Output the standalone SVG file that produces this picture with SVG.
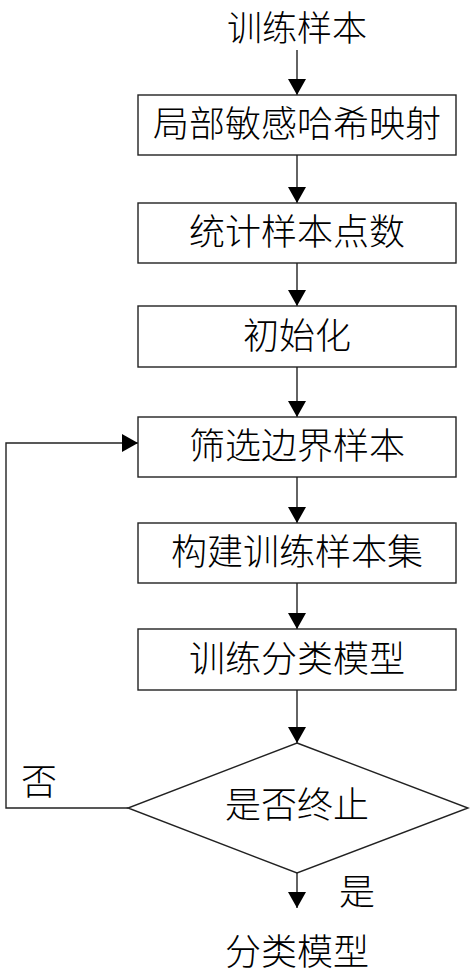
<svg xmlns="http://www.w3.org/2000/svg" width="474" height="974" viewBox="0 0 474 974">
<style>
.box{fill:#fff;stroke:#222;stroke-width:1.4}
.t{font-family:"Noto Sans CJK SC","Noto Sans CJK TC",sans-serif;font-size:36px;font-weight:300;fill:#000;text-anchor:middle}
.c{fill:none;stroke:#222;stroke-width:1.4}
</style>
<defs>
<marker id="ah" viewBox="0 0 16 18" refX="16" refY="9" markerWidth="16" markerHeight="18" markerUnits="userSpaceOnUse" orient="auto">
<path d="M0,0 L16,9 L0,18 Z" fill="#000"/>
</marker>
</defs>
<rect width="474" height="974" fill="#fff"/>
<g id="connectors">
<line class="c" x1="297" y1="50" x2="297" y2="95" marker-end="url(#ah)"/>
<line class="c" x1="297" y1="155" x2="297" y2="203" marker-end="url(#ah)"/>
<line class="c" x1="297" y1="263" x2="297" y2="306" marker-end="url(#ah)"/>
<line class="c" x1="297" y1="367" x2="297" y2="417" marker-end="url(#ah)"/>
<line class="c" x1="297" y1="477" x2="297" y2="523" marker-end="url(#ah)"/>
<line class="c" x1="297" y1="583" x2="297" y2="629" marker-end="url(#ah)"/>
<line class="c" x1="297" y1="690" x2="297" y2="743" marker-end="url(#ah)"/>
<line class="c" x1="297" y1="873" x2="297" y2="908" marker-end="url(#ah)"/>
<polyline class="c" points="128,808 6,808 6,443 138,443" marker-end="url(#ah)"/>
<text class="t" x="39" y="795">否</text>
<text class="t" x="357" y="905">是</text>
</g>
<g id="start"><text class="t" x="297" y="41" style="font-size:35px">训练样本</text></g>
<g id="n1"><rect class="box" x="138" y="95" width="318" height="60"/><text class="t" x="297" y="137">局部敏感哈希映射</text></g>
<g id="n2"><rect class="box" x="138" y="203" width="318" height="60"/><text class="t" x="297" y="245">统计样本点数</text></g>
<g id="n3"><rect class="box" x="138" y="306" width="318" height="61"/><text class="t" x="297" y="349">初始化</text></g>
<g id="n4"><rect class="box" x="138" y="417" width="318" height="60"/><text class="t" x="297" y="459">筛选边界样本</text></g>
<g id="n5"><rect class="box" x="138" y="523" width="318" height="60"/><text class="t" x="297" y="565">构建训练样本集</text></g>
<g id="n6"><rect class="box" x="138" y="629" width="318" height="61"/><text class="t" x="297" y="672">训练分类模型</text></g>
<g id="decision"><polygon class="box" points="297,743 468,808 297,873 128,808"/><text class="t" x="297" y="818">是否终止</text></g>
<g id="end"><text class="t" x="297" y="965">分类模型</text></g>
</svg>
